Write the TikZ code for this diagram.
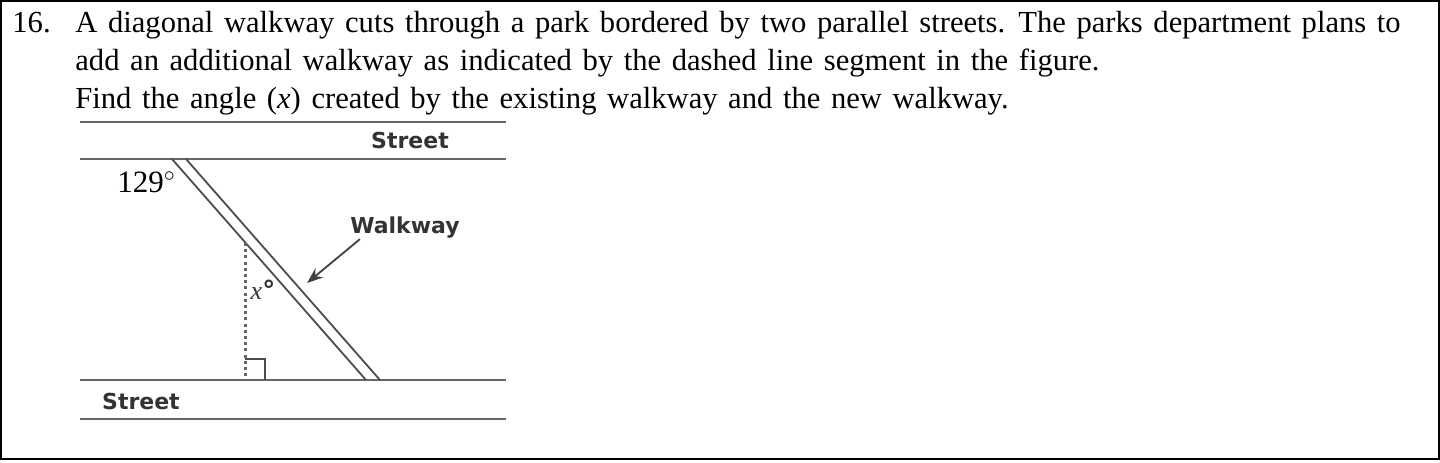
\documentclass[tikz,border=0pt]{standalone}
\usepackage{fontspec}
\setmainfont{Liberation Serif}
\newfontfamily\signfont{DejaVu Sans}
\usetikzlibrary{arrows.meta}
\newcommand\qfont{\fontsize{15.3}{19}\selectfont\spaceskip 5.3pt plus 1pt\relax}

\begin{document}
\begin{tikzpicture}[x=0.5pt,y=-0.5pt,
      street/.style={draw=black!60,line width=1.4pt},
      rail/.style={draw=black!70,line width=0.9pt},
      sign/.style={font=\signfont\bfseries\fontsize{11}{13}\selectfont,text=black!80,inner sep=0pt},
      qtext/.style={font=\qfont,inner sep=0pt,anchor=base west}
      ]
      \useasboundingbox (0,0) rectangle (1440,462);
      \draw[line width=0.8pt] (1,1) rectangle (1439,459);

      % question
      \node[qtext] (num) at (12,32) {16.};
      \node[qtext] (line1) at (75,32) {A diagonal walkway cuts through a park bordered by two parallel streets. The parks department plans to};
      \node[qtext] (line2) at (75,70) {add an additional walkway as indicated by the dashed line segment in the figure.};
      \node[qtext] (line3) at (75,108) {Find the angle (\textit{x}) created by the existing walkway and the new walkway.};

      % streets
      \coordinate (s1a) at (80,122);  \coordinate (s1b) at (506,122);
      \coordinate (s2a) at (80,159);  \coordinate (s2b) at (506,159);
      \coordinate (s3a) at (80,380);  \coordinate (s3b) at (506,380);
      \coordinate (s4a) at (80,419);  \coordinate (s4b) at (506,419);
      \draw[street] (s1a) -- (s1b);
      \draw[street] (s2a) -- (s2b);
      \draw[street] (s3a) -- (s3b);
      \draw[street] (s4a) -- (s4b);
      \node[sign] (top) at (410,140) {Street};
      \node[sign] (bottom) at (141,401) {Street};

      % walkway
      \coordinate (wa) at (172,159);  \coordinate (wb) at (366,380);
      \coordinate (wc) at (186,159);  \coordinate (wd) at (380,380);
      \draw[rail] (wa) -- (wb);
      \draw[rail] (wc) -- (wd);

      % new walkway
      \coordinate (new) at (245,243);  \coordinate (foot) at (245,380);
      \draw[black!60,line width=1.5pt,dash pattern=on 1.5pt off 1.6pt] (new) -- (foot);
      \draw[black!70,line width=0.8pt] ([yshift=10.5pt]foot) -| ([xshift=10pt]foot);

      \node[inner sep=0pt,anchor=base west,font=\fontsize{15.5}{18}\selectfont] (outer) at (117,192) {129$^{\circ}$};
      \node[inner sep=0pt,text=black!80,font=\fontsize{13}{15}\selectfont] (x) at (263,290) {\textit{x}{\signfont\bfseries\fontsize{13}{13}\selectfont °}};

      \node[sign] (walk) at (405,228) {Walkway};
      \coordinate (aim) at (307,283);
      \draw[black!75,line width=0.9pt,-{Stealth[length=8pt,width=6pt]}] ([xshift=5pt]walk.south west) -- (aim);
\end{tikzpicture}
\end{document}
